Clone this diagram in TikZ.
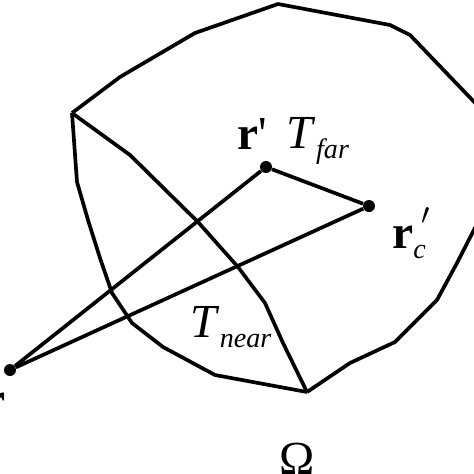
\documentclass[tikz,border=0pt]{standalone}
\usepackage{fontspec}
\setmainfont{Liberation Serif}
\newcommand{\lowtext}[1]{\raisebox{-0.45ex}{\fontsize{16}{18}\selectfont\textit{#1}}}

\begin{document}
\begin{tikzpicture}[x=0.02cm, y=-0.02cm,
    point/.style={circle, fill=black, inner sep=0pt, minimum size=0.24cm},
    edge/.style={draw, line width=2.1pt, line join=round},
    label/.style={font=\fontsize{27}{30}\selectfont, inner sep=0pt}
]
\useasboundingbox (0,0) rectangle (474,474);
\clip (0,0) rectangle (474,474);

% Define corners of the domain
\coordinate (tl) at (72,113);
\coordinate (bt) at (307,392);

% Define points
\node[point] (r) at (10,370) {};
\node[point] (rp) at (266,167) {};
\node[point] (rc) at (369,206) {};

% Outer boundary and the cut between the two parts
\path[edge] (tl) -- (120,77) -- (195,33) -- (278,4) -- (390,25) -- (410,35)
    -- (480,108) -- (492,170) -- (478,222) -- (457,263) -- (437,300)
    -- (395,342) -- (350,363) -- (bt);
\path[edge] (bt) -- (215,375) -- (163,347) -- (132,323) -- (112,293)
    -- (100,258) -- (88,220) -- (77,182) -- (tl);
\path[edge] (tl) -- (130,155) -- (198,222) -- (238,267) -- (265,303)
    -- (283,343) -- (bt);

% Define edges between points
\path[edge] (r) -- (rp);
\path[edge] (rp) -- (rc);
\path[edge] (rc) -- (r);

% Labels
\node[label] (lr) at (-5,404) {\textbf{r}};
\node[label] (lrp) at (252,134) {\textbf{r}\textquotesingle};
\node[label] (lrc) at (411,233) {\textbf{r}\rlap{\lowtext{c}}\raisebox{1.1ex}{\,\fontsize{18}{20}\selectfont$\prime$}};
\node[label] (far) at (318,141) {\textit{T}\lowtext{far}};
\node[label] (near) at (231,327) {\textit{T}\lowtext{near}};
\node[label] (om) at (297,459) {Ω};

\end{tikzpicture}
\end{document}
